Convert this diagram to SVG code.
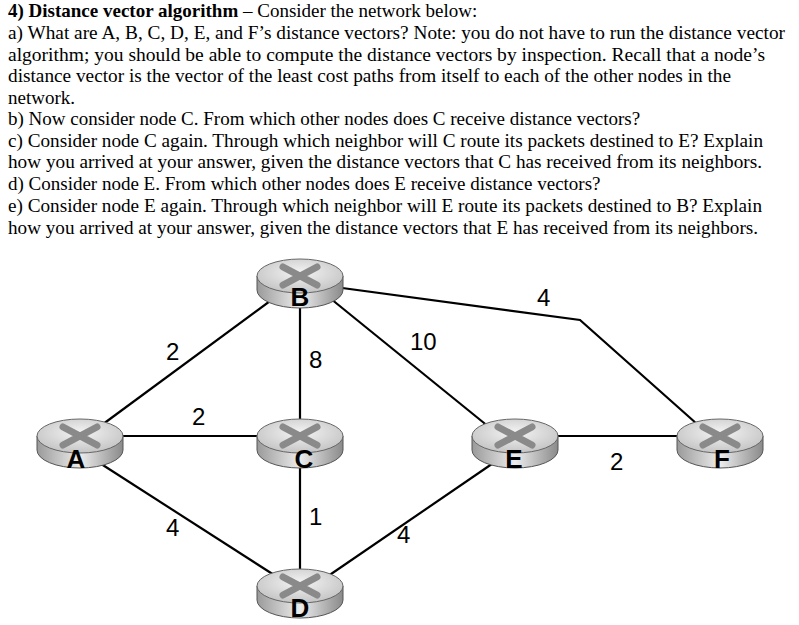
<svg xmlns="http://www.w3.org/2000/svg" width="799" height="625" viewBox="0 0 799 625">
<defs>
<linearGradient id="side" x1="0" x2="1" y1="0" y2="0"><stop offset="0" stop-color="#9a9a9a"/><stop offset="0.5" stop-color="#ededed"/><stop offset="1" stop-color="#8a8a8a"/></linearGradient>
<radialGradient id="top" cx="0.5" cy="0.4" r="0.6"><stop offset="0" stop-color="#f4f4f4"/><stop offset="1" stop-color="#c4c4c4"/></radialGradient>
<g id="router">
<path d="M-43,-4 L-43,10 A43,18 0 0 0 43,10 L43,-4 Z" fill="url(#side)" stroke="#555" stroke-width="1"/>
<ellipse cx="0" cy="-4" rx="43" ry="17" fill="url(#top)" stroke="#666" stroke-width="1"/>
<path d="M-17,-13 L17,5 M17,-13 L-17,5" stroke="#8a8a8a" stroke-width="7" stroke-linecap="round"/>
</g>
</defs>
<style>
.q{font-family:"Liberation Serif",serif;font-size:19px;fill:#000}
.e{stroke:#000;stroke-width:2.2;fill:none}
.w{font-family:"Liberation Sans",sans-serif;font-size:24px;fill:#000}
.n{font-family:"Liberation Sans",sans-serif;font-size:26px;font-weight:bold;fill:#000;text-anchor:middle}
</style>
<rect width="799" height="625" fill="#fff"/>
<g id="text">
<text class="q" x="8" y="17"><tspan font-weight="bold">4) Distance vector algorithm</tspan> – Consider the network below:</text>
<text class="q" x="8" y="39" textLength="777" lengthAdjust="spacingAndGlyphs">a) What are A, B, C, D, E, and F’s distance vectors? Note: you do not have to run the distance vector</text>
<text class="q" x="8" y="61" textLength="757" lengthAdjust="spacingAndGlyphs">algorithm; you should be able to compute the distance vectors by inspection. Recall that a node’s</text>
<text class="q" x="8" y="82" textLength="723" lengthAdjust="spacingAndGlyphs">distance vector is the vector of the least cost paths from itself to each of the other nodes in the</text>
<text class="q" x="8" y="104">network.</text>
<text class="q" x="8" y="125">b) Now consider node C. From which other nodes does C receive distance vectors?</text>
<text class="q" x="8" y="147" textLength="755" lengthAdjust="spacingAndGlyphs">c) Consider node C again. Through which neighbor will C route its packets destined to E? Explain</text>
<text class="q" x="8" y="168" textLength="754" lengthAdjust="spacingAndGlyphs">how you arrived at your answer, given the distance vectors that C has received from its neighbors.</text>
<text class="q" x="8" y="190">d) Consider node E. From which other nodes does E receive distance vectors?</text>
<text class="q" x="8" y="212" textLength="754" lengthAdjust="spacingAndGlyphs">e) Consider node E again. Through which neighbor will E route its packets destined to B? Explain</text>
<text class="q" x="8" y="234" textLength="750" lengthAdjust="spacingAndGlyphs">how you arrived at your answer, given the distance vectors that E has received from its neighbors.</text>
</g>
<g id="connectors">
<line class="e" x1="95" y1="430" x2="285" y2="290"/>
<line class="e" x1="90" y1="436" x2="300" y2="436"/>
<line class="e" x1="95" y1="460" x2="285" y2="582"/>
<line class="e" x1="300" y1="295" x2="300" y2="590"/>
<line class="e" x1="320" y1="290" x2="505" y2="440"/>
<polyline class="e" points="320,285 580,320 715,440"/>
<line class="e" x1="315" y1="585" x2="505" y2="455"/>
<line class="e" x1="515" y1="436" x2="720" y2="436"/>
<text class="w" x="166" y="360">2</text>
<text class="w" x="192" y="425">2</text>
<text class="w" x="166" y="536">4</text>
<text class="w" x="309" y="368">8</text>
<text class="w" x="410" y="350">10</text>
<text class="w" x="537" y="306">4</text>
<text class="w" x="610" y="470">2</text>
<text class="w" x="309" y="525">1</text>
<text class="w" x="397" y="543">4</text>
</g>
<g id="B"><use href="#router" x="300" y="280"/><text class="n" x="300" y="306">B</text></g>
<g id="A"><use href="#router" x="80" y="440"/><text class="n" x="76" y="468">A</text></g>
<g id="C"><use href="#router" x="300" y="440"/><text class="n" x="304" y="468">C</text></g>
<g id="E"><use href="#router" x="515" y="440"/><text class="n" x="514" y="468">E</text></g>
<g id="F"><use href="#router" x="720" y="440"/><text class="n" x="722" y="468">F</text></g>
<g id="D"><use href="#router" x="300" y="590"/><text class="n" x="300" y="617">D</text></g>
</svg>
